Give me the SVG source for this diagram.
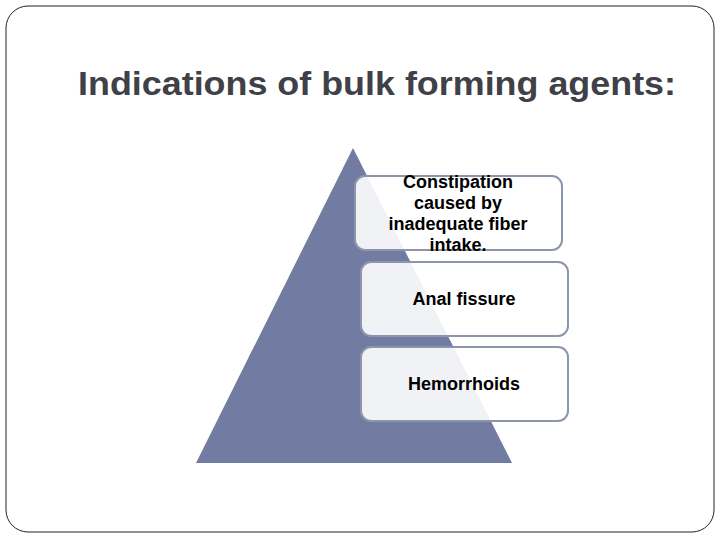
<svg xmlns="http://www.w3.org/2000/svg" width="720" height="540" viewBox="0 0 720 540">
<style>
.box{fill:#ffffff;fill-opacity:0.9;stroke:#8c96aa;stroke-width:2}
.t{font-family:"Liberation Sans",Arial,sans-serif;font-size:18px;font-weight:bold;fill:#000;text-anchor:middle}
</style>
<rect width="720" height="540" fill="#fff"/>
<rect x="6" y="6" width="708" height="526" rx="22" fill="#fff" stroke="#222" stroke-width="1"/>
<text x="78" y="95" font-family="'Liberation Sans',Arial,sans-serif" font-size="33" font-weight="bold" fill="#404048" textLength="598" lengthAdjust="spacingAndGlyphs">Indications of bulk forming agents:</text>
<polygon id="pyramid" points="353,148 512,463 196,463" fill="#727ca2"/>
<g id="n1"><rect class="box" x="355" y="176" width="207" height="74" rx="10"/>
<text class="t" x="458" y="188">Constipation</text><text class="t" x="458" y="209">caused by</text><text class="t" x="458" y="230">inadequate fiber</text><text class="t" x="458" y="251">intake.</text></g>
<g id="n2"><rect class="box" x="361" y="262" width="207" height="74" rx="10"/><text class="t" x="464" y="305">Anal fissure</text></g>
<g id="n3"><rect class="box" x="361" y="347" width="207" height="74" rx="10"/><text class="t" x="464" y="390">Hemorrhoids</text></g>
<g id="connectors"/>
</svg>
